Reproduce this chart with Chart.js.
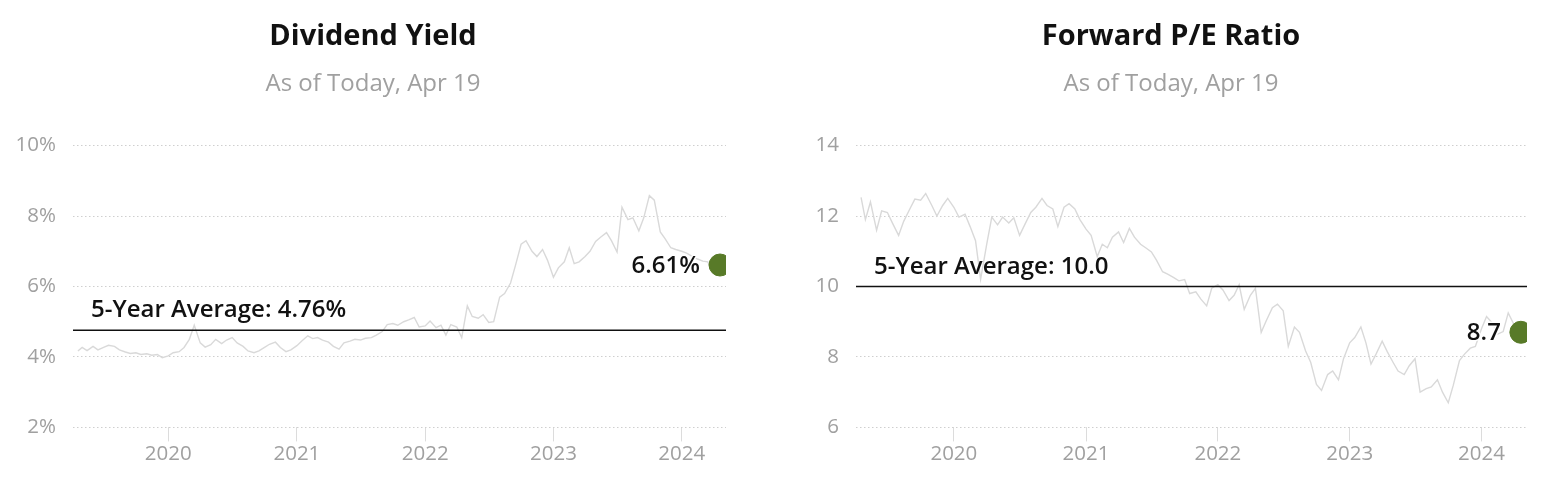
<!DOCTYPE html>
<html>
<head>
<meta charset="utf-8">
<script src="https://cdn.jsdelivr.net/npm/chart.js@4.4.1/dist/chart.umd.min.js"></script>
<style>
  html, body { margin: 0; padding: 0; background: #fff; }
  .box { position: absolute; top: 0; width: 746px; height: 500px; }
  #left { left: 0; }
  #right { left: 798px; }
</style>
</head>
<body>
<div class="box" id="left"><canvas id="yieldChart"></canvas></div>
<div class="box" id="right"><canvas id="peChart"></canvas></div>
<script>
// semi-monthly observations, Apr 19 2019 .. Apr 19 2024
const dates = [
  '2019-04-19','2019-05-01','2019-05-15','2019-06-01','2019-06-15','2019-07-01','2019-07-15','2019-08-01','2019-08-15',
  '2019-09-01','2019-09-15','2019-10-01','2019-10-15','2019-11-01','2019-11-15','2019-12-01','2019-12-15',
  '2020-01-01','2020-01-15','2020-02-01','2020-02-15','2020-03-01','2020-03-15','2020-04-01','2020-04-15','2020-05-01','2020-05-15','2020-06-01','2020-06-15',
  '2020-07-01','2020-07-15','2020-08-01','2020-08-15','2020-09-01','2020-09-15','2020-10-01','2020-10-15','2020-11-01','2020-11-15','2020-12-01','2020-12-15',
  '2021-01-01','2021-01-15','2021-02-01','2021-02-15','2021-03-01','2021-03-15','2021-04-01','2021-04-15','2021-05-01','2021-05-15','2021-06-01','2021-06-15',
  '2021-07-01','2021-07-15','2021-08-01','2021-08-15','2021-09-01','2021-09-15','2021-10-01','2021-10-15','2021-11-01','2021-11-15','2021-12-01','2021-12-15',
  '2022-01-01','2022-01-15','2022-02-01','2022-02-15','2022-03-01','2022-03-15','2022-04-01','2022-04-15','2022-05-01','2022-05-15','2022-06-01','2022-06-15',
  '2022-07-01','2022-07-15','2022-08-01','2022-08-15','2022-09-01','2022-09-15','2022-10-01','2022-10-15','2022-11-01','2022-11-15','2022-12-01','2022-12-15',
  '2023-01-01','2023-01-15','2023-02-01','2023-02-15','2023-03-01','2023-03-15','2023-04-01','2023-04-15','2023-05-01','2023-05-15','2023-06-01','2023-06-15',
  '2023-07-01','2023-07-15','2023-08-01','2023-08-15','2023-09-01','2023-09-15','2023-10-01','2023-10-15','2023-11-01','2023-11-15','2023-12-01','2023-12-15',
  '2024-01-01','2024-01-15','2024-02-01','2024-02-15','2024-03-01','2024-03-15','2024-04-01','2024-04-15','2024-04-19'
];

const yieldValues = [
  4.17,4.27,4.18,4.30,4.20,4.27,4.33,4.30,4.20,4.14,4.10,4.12,4.07,4.09,4.05,4.07,3.98,
  4.03,4.12,4.15,4.27,4.50,4.90,4.40,4.28,4.35,4.50,4.38,4.48,4.55,4.40,4.30,4.17,4.12,4.17,4.27,4.36,4.42,4.27,4.15,4.20,
  4.32,4.45,4.60,4.52,4.55,4.48,4.42,4.30,4.22,4.40,4.45,4.50,4.48,4.53,4.55,4.62,4.72,4.92,4.95,4.90,5.00,5.05,5.12,4.85,
  4.88,5.02,4.83,4.90,4.62,4.92,4.85,4.55,5.45,5.15,5.10,5.20,4.98,5.00,5.70,5.80,6.10,6.60,7.20,7.30,7.00,6.85,7.05,6.75,
  6.26,6.53,6.70,7.10,6.65,6.70,6.85,7.00,7.28,7.40,7.53,7.30,6.98,8.25,7.90,7.95,7.58,7.95,8.58,8.45,7.55,7.35,7.10,7.05,
  7.00,6.95,6.85,6.78,6.72,6.70,6.38,6.52,6.61
];

const peValues = [
  12.53,11.90,12.40,11.60,12.15,12.10,11.80,11.45,11.85,12.20,12.48,12.45,12.64,12.30,12.00,12.30,12.50,
  12.25,11.97,12.05,11.70,11.30,10.20,11.20,11.97,11.75,11.97,11.80,11.95,11.45,11.75,12.10,12.25,12.50,12.30,12.20,11.70,12.25,12.35,12.20,11.90,
  11.63,11.45,10.85,11.20,11.10,11.40,11.55,11.25,11.65,11.40,11.20,11.10,10.98,10.75,10.42,10.35,10.25,10.16,10.20,9.80,9.85,9.64,9.45,9.95,
  10.05,9.90,9.60,9.75,10.05,9.35,9.75,9.95,8.70,9.03,9.40,9.50,9.31,8.30,8.85,8.70,8.17,7.85,7.22,7.05,7.50,7.60,7.35,7.95,
  8.40,8.55,8.85,8.40,7.80,8.08,8.45,8.15,7.85,7.60,7.50,7.75,7.95,7.00,7.10,7.15,7.35,7.00,6.70,7.20,7.90,8.08,8.25,8.30,
  8.80,9.15,8.95,8.65,8.72,9.25,8.90,8.75,8.70
];

const yearTicks = [2020, 2021, 2022, 2023, 2024];
const yieldTicks = [2, 4, 6, 8, 10];
const peTicks = [6, 8, 10, 12, 14];
const yieldAvg = 4.76;
const peAvg = 10.0;

const FONT = '"Open Sans", "Noto Sans", sans-serif';
const GREEN = '#587a28';
const xMin = Date.UTC(2019, 3, 5);
const xMax = Date.UTC(2024, 4, 6);

// avg label + last value label
const labelPlugin = {
  id: 'marks',
  afterDatasetsDraw(chart, args, opts) {
    const { ctx, chartArea, scales } = chart;
    ctx.save();
    ctx.font = '600 24px ' + FONT;
    ctx.fillStyle = '#111';
    ctx.textAlign = 'left';
    ctx.textBaseline = 'alphabetic';
    ctx.fillText(opts.avgText, chartArea.left + 18, scales.y.getPixelForValue(opts.avg) - 13);

    const px = scales.x.getPixelForValue(opts.lastX);
    const py = scales.y.getPixelForValue(opts.last);
    ctx.textAlign = 'right';
    ctx.textBaseline = 'middle';
    ctx.strokeStyle = '#fff';
    ctx.lineWidth = 3;
    ctx.strokeText(opts.lastText, px - 20, py + 1);
    ctx.fillText(opts.lastText, px - 20, py + 1);
    ctx.restore();
  }
};

function makeChart(id, cfg) {
  const pts = dates.map((d, i) => ({ x: Date.parse(d), y: cfg.values[i] }));
  const last = pts[pts.length - 1];
  return new Chart(document.getElementById(id), {
    type: 'line',
    data: {
      datasets: [
        { data: [last], borderColor: GREEN, backgroundColor: GREEN, pointRadius: 11, showLine: false, order: 0 },
        { data: [{ x: xMin, y: cfg.avg }, { x: xMax, y: cfg.avg }], borderColor: '#111', borderWidth: 1.5, pointRadius: 0, order: 1 },
        { data: pts, borderColor: '#d9d9d9', borderWidth: 1.4, pointRadius: 0, tension: 0, order: 2 }
      ]
    },
    options: {
      animation: false,
      responsive: true,
      maintainAspectRatio: false,
      events: [],
      layout: { padding: { left: 0, right: 0, top: 0, bottom: 34 } },
      plugins: {
        legend: { display: false },
        tooltip: { enabled: false },
        title: {
          display: true, text: cfg.title, color: '#111',
          font: { family: FONT, size: 29, weight: 'bold' },
          padding: { top: 19, bottom: 16 }
        },
        subtitle: {
          display: true, text: 'As of Today, Apr 19', color: '#a0a0a0',
          font: { family: FONT, size: 24 },
          padding: { top: 0, bottom: 47 }
        },
        marks: {
          avg: cfg.avg, avgText: cfg.avgText,
          last: last.y, lastX: last.x, lastText: cfg.lastText
        }
      },
      scales: {
        x: {
          type: 'linear', min: xMin, max: xMax,
          afterBuildTicks: (axis) => { axis.ticks = yearTicks.map(y => ({ value: Date.UTC(y, 0, 1) })); },
          ticks: {
            autoSkip: false, maxRotation: 0, padding: 0,
            color: '#a0a0a0', font: { family: FONT, size: 20.5 },
            callback: (v) => new Date(v).getUTCFullYear()
          },
          grid: { drawOnChartArea: false, drawTicks: true, tickLength: 14, color: '#dcdcdc' },
          border: { display: false }
        },
        y: {
          min: cfg.ticks[0], max: cfg.ticks[cfg.ticks.length - 1],
          afterBuildTicks: (axis) => { axis.ticks = cfg.ticks.map(v => ({ value: v })); },
          afterFit: (axis) => { axis.width = cfg.axisWidth; },
          ticks: {
            padding: 17, color: '#a0a0a0', font: { family: FONT, size: 20.5 },
            callback: (v) => v + cfg.suffix
          },
          grid: { drawTicks: false, color: '#cfcfcf', lineWidth: 1 },
          border: { display: false, dash: [1.5, 2.5] }
        },
        // empty right-side spacer keeps the title centred on the whole box
        spacer: {
          position: 'right', display: true,
          ticks: { display: false },
          grid: { display: false },
          border: { display: false },
          afterFit: (axis) => { axis.width = cfg.padRight; }
        }
      }
    },
    plugins: [labelPlugin]
  });
}

makeChart('yieldChart', {
  title: 'Dividend Yield', values: yieldValues, avg: yieldAvg, ticks: yieldTicks, suffix: '%',
  avgText: '5-Year Average: 4.76%', lastText: '6.61%', axisWidth: 73, padRight: 20
});
makeChart('peChart', {
  title: 'Forward P/E Ratio', values: peValues, avg: peAvg, ticks: peTicks, suffix: '',
  avgText: '5-Year Average: 10.0', lastText: '8.7', axisWidth: 58, padRight: 17
});
</script>
</body>
</html>
